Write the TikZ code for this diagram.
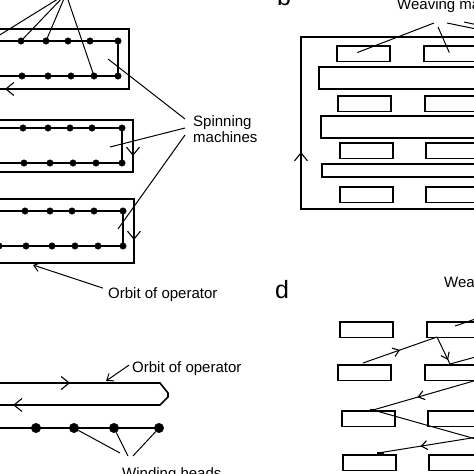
\documentclass[tikz,border=0pt]{standalone}
\usepackage{fontspec}
\setmainfont{Liberation Sans}
\usetikzlibrary{arrows.meta, calc, decorations.markings, positioning}
\tikzset{>=latex}
\tikzset{orbit/.style = {line width=1.6pt}}
\tikzset{beads/.style = {line width=2.3pt}}
\tikzset{bead/.style = {draw, fill, circle, inner sep=0, minimum size=6.5pt}}
\tikzset{whead/.style = {draw, fill, circle, inner sep=0, minimum size=9.5pt}}
\tikzset{loom/.style = {draw, line width=1.6pt, inner sep=0}}
\tikzset{lead/.style = {line width=1pt}}
\tikzset{pointer/.style = {lead, -{Straight Barb[length=6pt, width=9pt, line width=1pt]}}}
\tikzset{chev/.style = {postaction={decorate, decoration={markings,
  mark=at position #1 with {\arrow{Straight Barb[length=8pt, width=13pt, line width=1.1pt]}}}}}}
\tikzset{tick/.style = {postaction={decorate, decoration={markings,
  mark=at position #1 with {\arrow{Straight Barb[length=6pt, width=9pt, line width=1.1pt]}}}}}}
\tikzset{txt/.style = {inner sep=0, anchor=base west, font=\fontsize{15}{16}\selectfont}}
\tikzset{letter/.style = {inner sep=0, anchor=base west, font=\fontsize{25}{25}\selectfont}}

\begin{document}
\begin{tikzpicture}[x=1pt, y=-1pt]
  \useasboundingbox (0,0) rectangle (474,474);
  \clip (0,0) rectangle (474,474);

  \foreach \i/\oT/\oR/\oB/\iT/\iR/\iB/\s/\p in
  {1/29/129/89/41/118/76/0/318pt, 2/120/133/172/128/122/163/2/174pt, 3/199/134/263/211/123/246/4/180pt}
  {
    \draw[orbit, chev=\p] (-5,\oT) -- (\oR,\oT) -- (\oR,\oB) -- (-5,\oB);
    \draw[beads] (-5,\iT) -- (\iR,\iT) -- (\iR,\iB) -- (-5,\iB);
    \foreach \x [count=\k] in {21,46,68,90}
    {
      \node[bead] (m\i t\k) at (\x+\s,\iT) {};
    }
    \foreach \x [count=\k] in {22,48,71,94}
    {
      \node[bead] (m\i b\k) at (\x+\s,\iB) {};
    }
    \node[bead] (m\i tc) at (\iR,\iT) {};
    \node[bead] (m\i bc) at (\iR,\iB) {};
  }
  \node[bead] (m1t0) at (-10,41) {};
  \node[bead] (m3b0) at (-1,246) {};

  \coordinate (hub) at (66,-6);
  \foreach \o in {m1t0, m1t1, m1t2, m1b4}
  {
    \draw[lead] (hub) -- (\o.center);
  }

  \node[txt, anchor=west, align=left] (spin) at (193,129) {Spinning\\machines};
  \coordinate (s1) at (108,59);
  \coordinate (s2) at (110,147);
  \coordinate (s3) at (118,229);
  \draw[lead] ([xshift=-8pt, yshift=10pt]spin.west) -- (s1);
  \draw[lead] ([xshift=-8pt, yshift=1pt]spin.west) -- (s2);
  \draw[lead] ([xshift=-8pt, yshift=-6pt]spin.west) -- (s3);

  \node[txt] (orbA) at (108,298) {Orbit of operator};
  \coordinate (oa) at (33,265);
  \draw[pointer] ([xshift=-5pt, yshift=6pt]orbA.west) -- (oa);

  \node[letter] (b) at (277,5) {b};
  \draw[orbit, chev=236pt] (480,209) -- (301,209) -- (301,37) -- (480,37);
  \foreach \y/\xa/\xb [count=\k] in {45/336/423, 95/337/424, 142/339/425, 186/339/425}
  {
    \node[loom, minimum width=53pt, minimum height=15.5pt, anchor=north west] (b\k a) at (\xa,\y) {};
    \node[loom, minimum width=53pt, minimum height=15.5pt, anchor=north west] (b\k b) at (\xb,\y) {};
  }
  \foreach \y/\x/\h in {67/319/22, 116/321/22, 164/322/13}
  {
    \draw[loom] (\x,\y) rectangle (490,\y+\h);
  }

  \node[txt] (weave) at (397,9) {Weaving machines};
  \coordinate (wv1) at (434,23);
  \coordinate (wv2) at (438,27);
  \coordinate (wv3) at (447,23);
  \coordinate (wv4) at (464,22);
  \coordinate (wt3) at (520,38);
  \coordinate (wt4) at (520,34);
  \draw[lead] (wv1) -- ($(b1a.center)+(-6,-1)$);
  \draw[lead] (wv2) -- ($(b1b.center)+(-1,-1)$);
  \draw[lead] (wv3) -- (wt3);
  \draw[lead] (wv4) -- (wt4);

  \draw[orbit, chev=75pt, chev=340pt] (-5,383) -- (160,383) -- (168,393) -- (168,397) -- (160,405) -- (-5,405);
  \draw[beads] (-5,428) -- (159,428);
  \foreach \x [count=\k] in {36,74,114,159}
  {
    \node[whead] (w\k) at (\x,428) {};
  }
  \node[txt] (orbC) at (132,372) {Orbit of operator};
  \coordinate (oc) at (106,381);
  \draw[pointer] ([xshift=-3pt, yshift=3pt]orbC.west) -- (oc);

  \node[txt] (wind) at (122,478) {Winding heads};
  \coordinate (wd1) at (120,453);
  \coordinate (wd2) at (128,456);
  \coordinate (wd3) at (133,456);
  \draw[lead] (wd1) -- (w2);
  \draw[lead] (wd2) -- (w3);
  \draw[lead] (wd3) -- (w4);

  \node[letter] (d) at (275,298) {d};
  \node[txt] (weaveD) at (444,287) {Weaving machines};
  \foreach \y/\xa/\xb [count=\k] in {321/339/426, 364/337/424, 410/341/427, 454/342/428}
  {
    \node[loom, minimum width=53pt, minimum height=15.5pt, anchor=north west] (d\k a) at (\xa,\y) {};
    \node[loom, minimum width=53pt, minimum height=15.5pt, anchor=north west] (d\k b) at (\xb,\y) {};
  }
  \coordinate (p0) at (455,326);
  \coordinate (q0) at (490,314);
  \coordinate (p1) at (363,363);
  \coordinate (p2) at (437,337);
  \coordinate (p3) at (450,364);
  \coordinate (q1) at (490,353);
  \coordinate (q2) at (484,378);
  \coordinate (p4) at (373,410);
  \coordinate (q3) at (490,443);
  \coordinate (q4) at (484,436);
  \coordinate (p5) at (378,453);
  \draw[lead] (p0) -- (q0);
  \draw[lead, tick=0.5] (p1) -- (p2);
  \draw[lead, tick=0.85] (p2) -- (p3);
  \draw[lead] (p3) -- (q1);
  \draw[lead, tick=0.6] (q2) -- (p4);
  \draw[lead] (p4) -- (q3);
  \draw[lead, tick=0.6] (q4) -- (p5);
  \draw[line width=2.5pt] ([xshift=-3pt]p4) -- ([xshift=3pt]p4);
  \draw[line width=2.5pt] ([xshift=-1pt]p5) -- ([xshift=6pt]p5);
\end{tikzpicture}
\end{document}
